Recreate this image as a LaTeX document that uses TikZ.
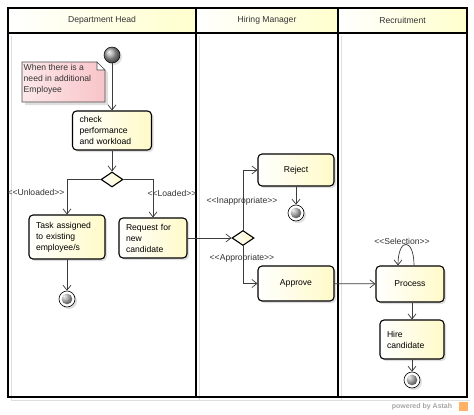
\documentclass[tikz,border=0pt]{standalone}
\usepackage{fontspec}
\setmainfont{Liberation Sans}
\usetikzlibrary{arrows.meta,shapes.geometric,shadows}
\definecolor{boxy}{RGB}{255,250,200}
\definecolor{heady}{RGB}{255,255,205}
\definecolor{notep}{RGB}{248,196,200}
\definecolor{conn}{RGB}{60,60,60}
\newcommand\stereo[1]{<{}<#1>{}>}
\begin{document}
\begin{tikzpicture}[x=1pt,y=-1pt,
  font=\fontsize{8.6}{11}\selectfont,
  actbox/.style={draw=black,line width=1.1pt,rounded corners=4pt,left color=white,right color=boxy,
    drop shadow={shadow xshift=2pt,shadow yshift=-2pt,opacity=0.25,fill=gray}},
  lbox/.style={actbox,align=left,inner xsep=7pt,inner ysep=0pt},
  cbox/.style={actbox,align=center,inner sep=0pt},
  decis/.style={diamond,draw=black,line width=1.1pt,minimum width=22pt,minimum height=15pt,inner sep=0pt,left color=white,right color=boxy},
  startnode/.style={circle,draw=black,line width=0.5pt,minimum size=16pt,inner sep=0pt,ball color=gray!70,
    drop shadow={shadow xshift=2pt,shadow yshift=-2pt,opacity=0.25,fill=gray}},
  endnode/.style={circle,draw=black,line width=0.6pt,minimum size=16pt,inner sep=0pt,fill=white,
    path picture={\shade[ball color=gray!75] (path picture bounding box.center) circle (5.3pt);},
    drop shadow={shadow xshift=2pt,shadow yshift=-2pt,opacity=0.25,fill=gray}},
  arr/.style={draw=conn,line width=0.7pt,-{Straight Barb[length=5pt,width=8pt,line width=0.7pt]}},
  lbl/.style={inner sep=0pt,text=black!80}
]
\useasboundingbox (0,0) rectangle (474,415);
\fill[white] (0,0) rectangle (474,415);
% lane shadows
\draw[gray!25,line width=1pt] (11,36) -- (11,400) -- (470,400);
\draw[gray!25,line width=1pt] (199,36) -- (199,400);
\draw[gray!25,line width=1pt] (341,36) -- (341,400);
% headers
\shade[left color=white,right color=heady] (8,8) rectangle (196,33);
\shade[left color=white,right color=heady] (196,8) rectangle (338,33);
\shade[left color=white,right color=heady] (338,8) rectangle (467,33);
\draw[black,line width=1.3pt] (8,8) rectangle (467,397);
\draw[black,line width=1.3pt] (8,33) -- (467,33);
\draw[black,line width=1.3pt] (196,8) -- (196,397);
\draw[black,line width=1.3pt] (338,8) -- (338,397);
\node[lbl] (h1) at (102,20.5) {Department Head};
\node[lbl] (h2) at (267,20.5) {Hiring Manager};
\node[lbl] (h3) at (402.5,20.5) {Recruitment};
% note
\fill[gray,opacity=0.25] (25,65) -- (100,65) -- (108,73) -- (108,105) -- (25,105) -- cycle;
\shade[left color=white!60!notep,right color=notep,draw=black!70,line width=0.6pt]
  (22,62) -- (97,62) -- (105,70) -- (105,102) -- (22,102) -- cycle;
\draw[black!70,line width=0.6pt,fill=white] (97,62) -- (97,70) -- (105,70) -- cycle;
\node[lbl,align=left,anchor=north west] (note) at (23.5,64.5) {When there is a\\need in additional\\Employee};
% nodes
\node[startnode] (start) at (112,55) {};
\node[lbox,text width=65pt,minimum height=39pt] (check) at (112,130.5) {check\\performance\\and workload};
\node[decis] (d1) at (112,179.5) {};
\node[lbox,text width=62pt,minimum height=44pt] (task) at (67,237) {Task assigned\\to existing\\employee/s};
\node[lbox,text width=54pt,minimum height=40pt] (req) at (153,238) {Request for\\new\\candidate};
\node[endnode] (f1) at (67,299) {};
\node[decis] (d2) at (243,238) {};
\node[cbox,minimum width=76pt,minimum height=32pt] (reject) at (296,170) {Reject};
\node[endnode] (f2) at (296,213) {};
\node[cbox,minimum width=76pt,minimum height=35pt] (approve) at (296,283.5) {Approve};
\node[cbox,minimum width=68pt,minimum height=36pt] (process) at (410,284) {Process};
\node[lbox,text width=50pt,minimum height=39pt] (hire) at (412,339.5) {Hire\\candidate};
\node[endnode] (f3) at (412,380) {};
% connectors
\draw[arr] (start) -- (check);
\draw[arr] (check) -- (d1);
\draw[arr] (d1.west) -| (task.north);
\draw[arr] (d1.east) -| (req.north);
\draw[arr] (task) -- (f1);
\draw[arr] (req) -- (d2);
\draw[arr] (d2.north) |- (reject.west);
\draw[arr] (d2.south) |- (approve.west);
\draw[arr] (reject) -- (f2);
\draw[arr] (approve) -- (process);
\draw[arr] ([xshift=4pt]process.north) .. controls +(0,-28) and +(0,-28) .. ([xshift=-12pt]process.north);
\draw[arr] (process.south -| hire) -- (hire.north);
\draw[arr] (hire) -- (f3);
% labels
\node[lbl] (l1) at (36,192) {\stereo{Unloaded}};
\node[lbl] (l2) at (172,193) {\stereo{Loaded}};
\node[lbl] (l3) at (242,201) {\stereo{Inappropriate}};
\node[lbl] (l4) at (242,258) {\stereo{Appropriate}};
\node[lbl] (l5) at (402,241) {\stereo{Selection}};
\node[lbl,text=gray!70,font=\fontsize{7}{8}\selectfont\bfseries] (pw) at (422,407) {powered by Astah};
\fill[orange!60] (459,402) rectangle (468,411);
\end{tikzpicture}
\end{document}
